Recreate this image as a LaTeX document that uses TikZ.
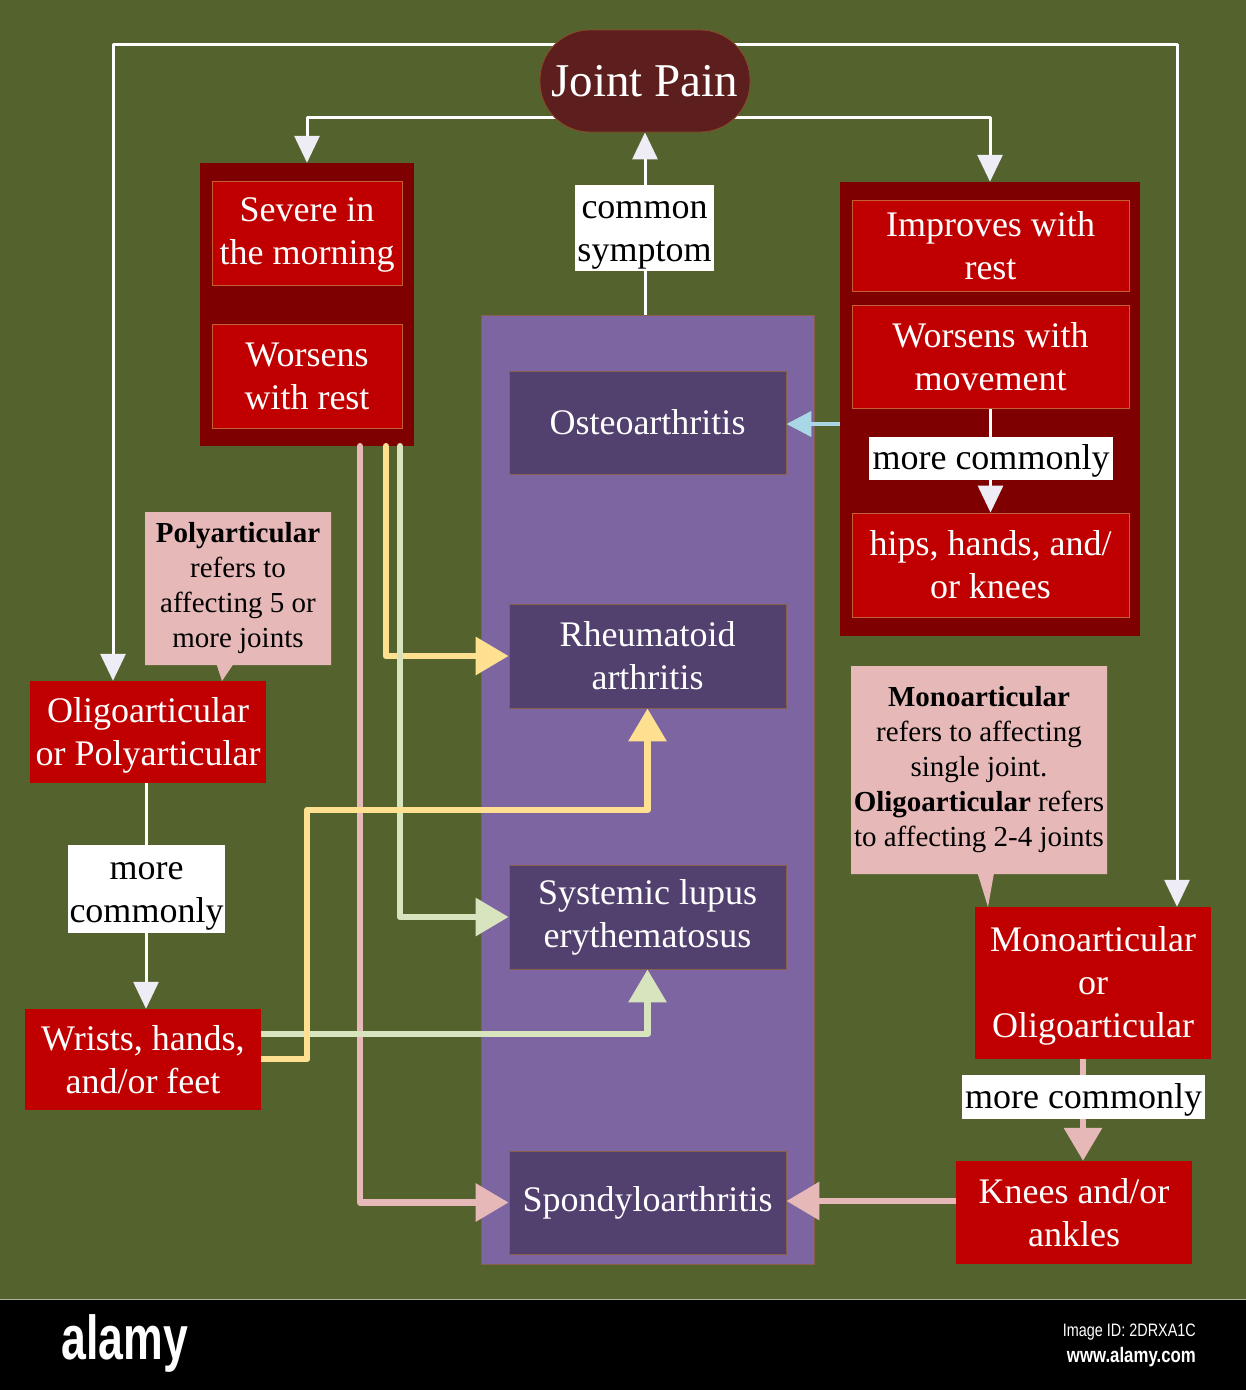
\documentclass[tikz,border=0pt]{standalone}
\usepackage{fontspec}
\setmainfont{Liberation Serif}
\newfontfamily\wmfont{Liberation Sans}
\usetikzlibrary{arrows.meta,shapes.callouts,calc}
\pgfdeclarelayer{bg}
\pgfdeclarelayer{lines}
\pgfsetlayers{bg,lines,main}
\definecolor{bggreen}{RGB}{84,99,46}
\definecolor{darkred}{RGB}{127,0,0}
\definecolor{boxred}{RGB}{192,0,0}
\definecolor{boxedge}{RGB}{196,96,48}
\definecolor{jpfill}{RGB}{92,31,30}
\definecolor{jpedge}{RGB}{140,72,40}
\definecolor{purplebg}{RGB}{124,101,160}
\definecolor{dpurple}{RGB}{82,64,111}
\definecolor{pedge}{RGB}{135,95,75}
\definecolor{notepink}{RGB}{230,185,184}
\definecolor{cpink}{RGB}{230,185,184}
\definecolor{cyellow}{RGB}{255,224,145}
\definecolor{cgreen}{RGB}{216,228,190}
\definecolor{cblue}{RGB}{170,215,230}
\definecolor{lav}{RGB}{238,236,245}
\definecolor{sepline}{RGB}{170,180,150}
\newcommand{\lowstack}[2]{\raisebox{-#1}[\height][\depth]{\begin{tabular}{@{}c@{}}#2\end{tabular}}}
\newcommand{\lowline}[2]{\raisebox{-#1}[\height][\depth]{#2}}
\begin{document}
\begin{tikzpicture}[x=1pt,y=-1pt,
  base/.style={inner sep=0pt, align=center, font=\fontsize{36}{43}\selectfont},
  redbox/.style={base, fill=boxred, draw=boxedge, line width=0.8pt, text=white},
  plainred/.style={base, fill=boxred, draw=none, text=white},
  outerred/.style={fill=darkred, draw=none, inner sep=0pt},
  dbox/.style={base, fill=dpurple, draw=pedge, line width=0.8pt, text=white},
  lab/.style={base, fill=white, text=black},
  note/.style={rectangle callout, fill=notepink, inner sep=0pt, align=center, text=black,
    font=\fontsize{29}{35}\selectfont, callout pointer width=16pt},
  wline/.style={draw=white, line width=3pt, line join=round, -{Triangle[width=25pt,length=27pt,color=lav]}},
  fatline/.style={line width=6.5pt, line cap=round, line join=round, -{Triangle[width=37pt,length=33pt]}}
]
\useasboundingbox (0,0) rectangle (1246,1390);

% ---------- background layer ----------
\begin{pgfonlayer}{bg}
  \fill[bggreen] (0,0) rectangle (1246,1300);
  \fill[black] (0,1300) rectangle (1246,1390);
  \draw[sepline, line width=1.5pt] (0,1299.5) -- (1246,1299.5);
  \node[outerred, minimum width=214pt, minimum height=283pt] (lbox) at (307,304.5) {};
  \node[outerred, minimum width=300pt, minimum height=454pt] (rbox) at (990,409) {};
  \node[fill=purplebg, draw=pedge, line width=0.8pt, inner sep=0pt,
        minimum width=333pt, minimum height=949pt] (purple) at (647.5,789.5) {};
\end{pgfonlayer}

% ---------- nodes ----------
\node[fill=jpfill, draw=jpedge, line width=0.8pt, rounded corners=50pt, inner sep=0pt,
      minimum width=210pt, minimum height=102pt, text=white,
      font=\fontsize{47}{56}\selectfont] (jp) at (645,81) {Joint Pain};

\node[redbox, minimum width=190pt, minimum height=104pt] (sev) at (307,233) {\lowstack{1pt}{Severe in\\the morning}};
\node[redbox, minimum width=190pt, minimum height=104pt] (wrest) at (307,376) {\lowstack{3pt}{Worsens\\with rest}};

\node[redbox, minimum width=277pt, minimum height=91pt] (imp) at (990.5,245.5) {Improves with\\rest};
\node[redbox, minimum width=277pt, minimum height=103pt] (wmov) at (990.5,356.5) {Worsens with\\movement};
\node[redbox, minimum width=277pt, minimum height=104pt] (hips) at (990.5,565) {hips, hands, and/\\or knees};

\node[dbox, minimum width=277pt, minimum height=103pt] (osteo) at (647.5,422.5) {Osteoarthritis};
\node[dbox, minimum width=277pt, minimum height=104pt] (rheum) at (647.5,656) {Rheumatoid\\arthritis};
\node[dbox, minimum width=277pt, minimum height=104pt] (sle) at (647.5,917) {Systemic lupus\\erythematosus};
\node[dbox, minimum width=277pt, minimum height=103pt] (spondy) at (647.5,1202.5) {Spondyloarthritis};

\node[plainred, minimum width=236pt, minimum height=102pt] (oligo) at (148,732) {\lowstack{3pt}{Oligoarticular\\or Polyarticular}};
\node[plainred, minimum width=236pt, minimum height=101pt] (wrists) at (143,1059.5) {Wrists, hands,\\and/or feet};
\node[plainred, minimum width=236pt, minimum height=152pt] (mono) at (1093,983) {\lowstack{3pt}{Monoarticular\\or\\Oligoarticular}};
\node[plainred, minimum width=236pt, minimum height=103pt] (knees) at (1074,1212.5) {Knees and/or\\ankles};

\node[note, minimum width=186pt, minimum height=153pt, callout absolute pointer={(222,681)}] (pnote) at (238,588.5)
  {\textbf{Polyarticular}\\refers to\\affecting 5 or\\more joints};
\node[note, minimum width=256pt, minimum height=208pt, callout absolute pointer={(988,907)}] (mnote) at (979,770)
  {\textbf{Monoarticular}\\refers to affecting\\single joint.\\\textbf{Oligoarticular} refers\\to affecting 2-4 joints};

% ---------- connectors ----------
\begin{pgfonlayer}{lines}
  \draw[wline] (jp.center |- 0,44) -| (113,0 |- oligo.north);
  \draw[wline] (jp.center |- 0,117) -| (307,0 |- lbox.north);
  \draw[wline] (jp.center |- 0,44) -| (1177,0 |- mono.north);
  \draw[wline] (jp.center |- 0,117) -| (990,0 |- rbox.north);
  \draw[wline] (645,0 |- purple.north) -- (645,0 |- jp.south);
  \draw[wline] (990.5,0 |- wmov.south) -- (990.5,0 |- hips.north);
  \draw[wline] (146,0 |- oligo.south) -- (146,0 |- wrists.north);
  \draw[draw=cblue, line width=4pt, -{Triangle[width=25pt,length=25pt]}]
    (rbox.west |- 0,424) -- (osteo.east |- 0,424);
  \draw[fatline, cpink] (360,0 |- lbox.south) |- (spondy.west);
  \draw[fatline, cyellow] (386,0 |- lbox.south) |- (rheum.west);
  \draw[fatline, cgreen] (400,0 |- lbox.south) |- (sle.west);
  \draw[fatline, cgreen] (wrists.east |- 0,1034) -| (sle.south);
  \draw[fatline, cyellow] (wrists.east |- 0,1059) -| (307,810) -| (rheum.south);
  \draw[fatline, cpink] (1083,0 |- mono.south) -- (1083,0 |- knees.north);
  \draw[fatline, cpink] (knees.west |- 0,1201) -- (spondy.east |- 0,1201);
\end{pgfonlayer}

% ---------- labels on connectors ----------
\node[lab, minimum width=139pt, minimum height=85pt] (cs) at (644.5,227.5) {\lowstack{4pt}{common\\symptom}};
\node[lab, minimum width=244pt, minimum height=43pt] (mc1) at (991,458.5) {\lowline{2pt}{more commonly}};
\node[lab, minimum width=157pt, minimum height=88pt] (mc2) at (146.5,889) {\lowstack{3pt}{more\\commonly}};
\node[lab, minimum width=243pt, minimum height=44pt] (mc3) at (1083.5,1097) {\lowline{3pt}{more commonly}};

% ---------- bottom bar ----------
\node[text=white, inner sep=0pt, font=\wmfont\bfseries\fontsize{62}{66}\selectfont] (wm1) at (125,1343)
  {\scalebox{0.72}[1]{alamy}};
\node[text=white, inner sep=0pt, anchor=east, font=\wmfont\fontsize{18}{20}\selectfont] (wm2) at (1196,1332)
  {\scalebox{0.8}[1]{Image ID: 2DRXA1C}};
\node[text=white, inner sep=0pt, anchor=east, font=\wmfont\bfseries\fontsize{21}{24}\selectfont] (wm3) at (1196,1357)
  {\scalebox{0.8}[1]{www.alamy.com}};
\end{tikzpicture}
\end{document}
